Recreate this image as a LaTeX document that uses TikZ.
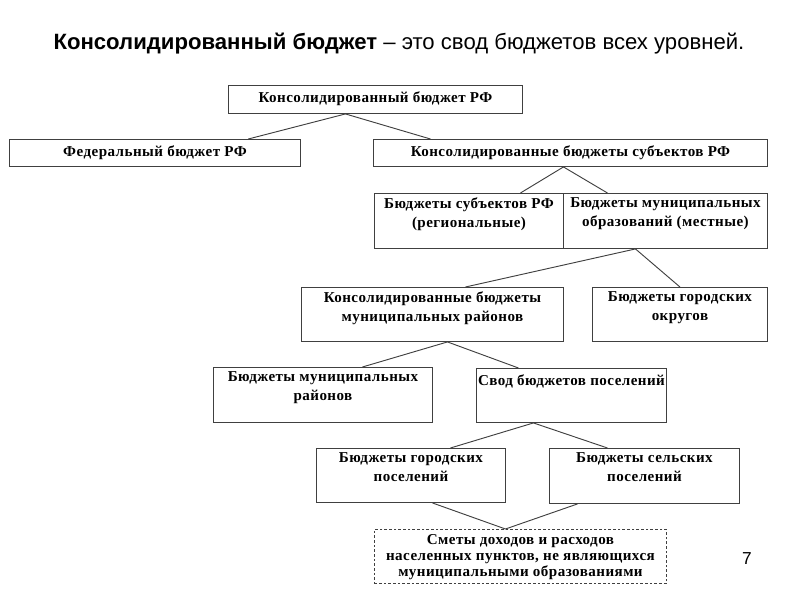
\documentclass[tikz,border=0pt]{standalone}
\usepackage{fontspec}
\setmainfont{Liberation Serif}
\newfontfamily\titlefont{Liberation Sans}
\newfontfamily\boxfont{Liberation Serif}[LetterSpace=3]
\usetikzlibrary{positioning}
\tikzset{
        % Boxes of the scheme
        budget/.style={rectangle, draw=black!75, line width=0.7pt, inner sep=0pt, anchor=north west},
        % Box that is not a budget of its own
        budget_dashed/.style={budget, dashed, dash pattern=on 2pt off 1.5pt},
        % Text at the top of a box
        budget_text/.style={align=center, inner sep=0pt, execute at begin node=\strut, font=\boxfont\bfseries\fontsize{11.3}{14}\selectfont, below=3.4pt of #1.north},
        % Connectors
        link/.style={draw=black!75, line width=0.7pt}
}
\begin{document}
\begin{tikzpicture}[x=0.75pt, y=-0.75pt]
            \useasboundingbox (0,0) rectangle (800,600);
            \node[font=\titlefont\fontsize{16.6}{19}\selectfont] (title) at (399,44)
                {\textbf{Консолидированный бюджет} – это свод бюджетов всех уровней.};

            % Boxes
            \node[budget, minimum width=220.5pt, minimum height=21pt] (cons) at (228,85) {};
            \node[budget, minimum width=218.25pt, minimum height=20.25pt] (fed) at (9,139) {};
            \node[budget, minimum width=295.5pt, minimum height=20.25pt] (subj) at (373,139) {};
            \node[budget, minimum width=141.75pt, minimum height=41.25pt] (reg) at (374,193) {};
            \node[budget, minimum width=153pt, minimum height=41.25pt] (mest) at (563,193) {};
            \node[budget, minimum width=196.5pt, minimum height=40.5pt] (cmr) at (301,287) {};
            \node[budget, minimum width=131.25pt, minimum height=40.5pt] (gok) at (592,287) {};
            \node[budget, minimum width=164.25pt, minimum height=41.25pt] (mr) at (213,367) {};
            \node[budget, minimum width=142.5pt, minimum height=40.5pt] (svod) at (476,368) {};
            \node[budget, minimum width=141.75pt, minimum height=40.5pt] (gp) at (316,448) {};
            \node[budget, minimum width=142.5pt, minimum height=41.25pt] (sp) at (549,448) {};
            \node[budget_dashed, minimum width=219pt, minimum height=40.5pt] (smety) at (374,529) {};

            % Texts
            \node[budget_text=cons] (cons_t) {Консолидированный бюджет РФ};
            \node[budget_text=fed] (fed_t) {Федеральный бюджет РФ};
            \node[budget_text=subj] (subj_t) {Консолидированные бюджеты субъектов РФ};
            \node[budget_text=reg] (reg_t) {Бюджеты субъектов РФ\\(региональные)};
            \node[budget_text=mest] (mest_t) {Бюджеты муниципальных\\образований (местные)};
            \node[budget_text=cmr] (cmr_t) {Консолидированные бюджеты\\муниципальных районов};
            \node[budget_text=gok] (gok_t) {Бюджеты городских\\округов};
            \node[budget_text=mr] (mr_t) {Бюджеты муниципальных\\районов};
            \node[budget_text=svod] (svod_t) {Свод бюджетов поселений};
            \node[budget_text=gp] (gp_t) {Бюджеты городских\\поселений};
            \node[budget_text=sp] (sp_t) {Бюджеты сельских\\поселений};
            \node[budget_text=smety, font=\boxfont\bfseries\fontsize{11.3}{11.8}\selectfont, below=4.1pt of smety.north] (smety_t)
                {Сметы доходов и расходов\\населенных пунктов, не являющихся\\муниципальными образованиями};

            % Connectors
            \draw[link] ([xshift=70pt]fed.north) -- ([xshift=-22.5pt]cons.south) -- ([xshift=-105pt]subj.north);
            \draw[link] ([xshift=38.6pt]reg.north) -- ([xshift=-5.25pt]subj.south) -- ([xshift=-43.5pt]mest.north);
            \draw[link] ([xshift=24.75pt]cmr.north) -- ([xshift=-22.5pt]mest.south) -- (gok.north);
            \draw[link] ([xshift=29.6pt]mr.north) -- ([xshift=11.25pt]cmr.south) -- ([xshift=-39.75pt]svod.north);
            \draw[link] ([xshift=29.6pt]gp.north) -- ([xshift=-28.5pt]svod.south) -- ([xshift=-27.75pt]sp.north);
            \draw[link] ([xshift=16.1pt]gp.south) -- ([xshift=-11.25pt]smety.north) -- ([xshift=-50.25pt]sp.south);

            \node[font=\titlefont\fontsize{13}{15}\selectfont] (page) at (747,559) {7};
\end{tikzpicture}
\end{document}
